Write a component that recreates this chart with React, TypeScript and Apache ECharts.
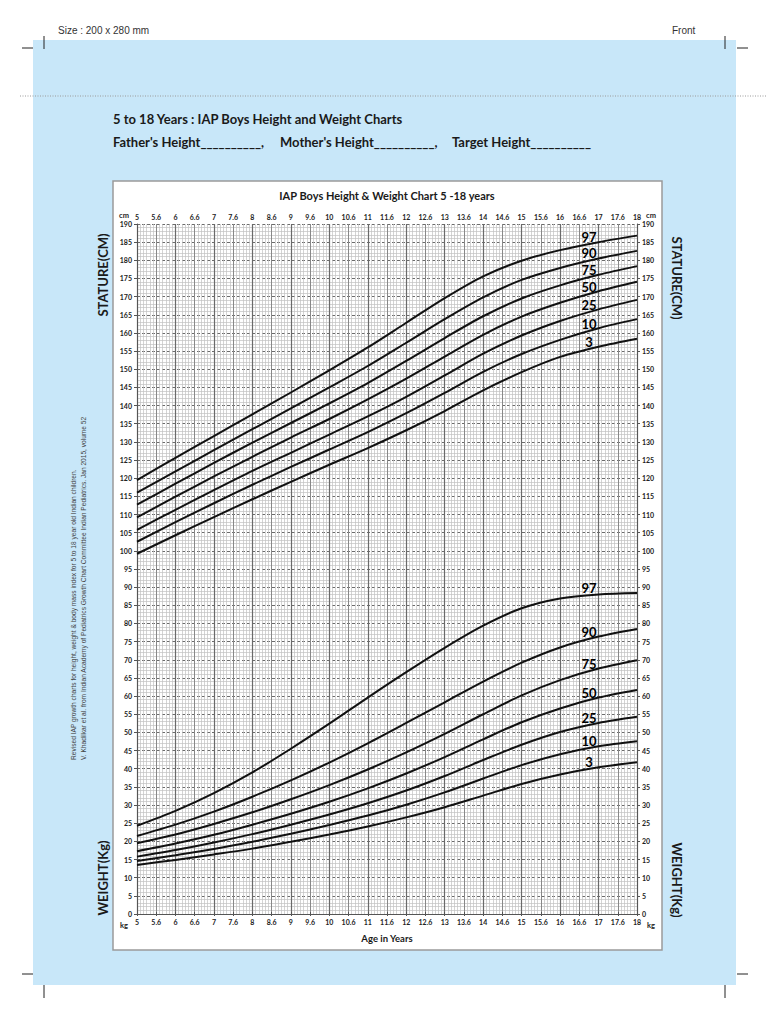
import React, { useEffect, useRef } from "react";
import * as echarts from "echarts";

// Ages (years) at which the percentile curves are sampled
const ages = [5, 6, 7, 8, 9, 10, 11, 12, 13, 14, 15, 16, 17, 18];
const percentiles = ["3", "10", "25", "50", "75", "90", "97"];

// Stature (cm)
const height3 = [99.2, 104.3, 109.3, 114.2, 119.0, 123.7, 128.3, 133.2, 138.5, 144.2, 149.2, 153.4, 156.2, 158.4];
const height10 = [102.5, 107.9, 113.1, 118.2, 123.1, 127.9, 132.7, 137.9, 143.5, 149.3, 154.2, 158.1, 161.3, 163.8];
const height25 = [105.8, 111.3, 116.7, 122.0, 127.0, 132.0, 137.0, 142.4, 148.3, 154.3, 159.3, 163.3, 166.5, 169.1];
const height50 = [109.2, 114.9, 120.5, 125.9, 131.2, 136.3, 141.7, 147.4, 153.5, 159.5, 164.5, 168.3, 171.5, 174.1];
const height75 = [112.7, 118.5, 124.2, 129.8, 135.2, 140.6, 146.2, 152.3, 158.6, 164.6, 169.5, 173.1, 176.0, 178.4];
const height90 = [116.0, 121.9, 127.7, 133.5, 139.2, 145.0, 150.9, 157.3, 163.8, 169.8, 174.6, 177.9, 180.5, 182.6];
const height97 = [119.5, 125.6, 131.6, 137.6, 143.6, 149.7, 156.0, 162.8, 169.6, 175.6, 179.9, 182.8, 185.0, 186.8];

// Weight (kg)
const weight3 = [13.5, 14.9, 16.4, 18.0, 19.9, 21.9, 24.1, 26.6, 29.4, 32.6, 35.8, 38.4, 40.4, 41.8];
const weight10 = [14.6, 16.2, 17.9, 19.9, 22.1, 24.5, 27.1, 30.1, 33.5, 37.3, 41.0, 44.0, 46.2, 47.6];
const weight25 = [15.8, 17.6, 19.7, 22.0, 24.6, 27.4, 30.5, 34.0, 38.0, 42.4, 46.6, 50.1, 52.6, 54.3];
const weight50 = [17.3, 19.4, 21.8, 24.6, 27.6, 30.9, 34.6, 38.7, 43.2, 48.1, 52.8, 56.6, 59.6, 61.7];
const weight75 = [19.5, 21.9, 24.8, 28.0, 31.6, 35.5, 39.8, 44.5, 49.6, 55.0, 60.2, 64.4, 67.6, 69.9];
const weight90 = [21.5, 24.6, 28.2, 32.3, 36.8, 41.7, 47.0, 52.6, 58.3, 64.0, 69.2, 73.4, 76.4, 78.5];
const weight97 = [24.3, 28.4, 33.3, 39.0, 45.5, 52.4, 59.6, 66.6, 73.3, 79.4, 84.2, 86.9, 88.0, 88.4];

// Tick labels along the age axis (half-year steps, "x.6" = x years 6 months)
const ageTickLabels = [
  "5", "5.6", "6", "6.6", "7", "7.6", "8", "8.6", "9", "9.6", "10", "10.6", "11", "11.6",
  "12", "12.6", "13", "13.6", "14", "14.6", "15", "15.6", "16", "16.6", "17", "17.6", "18",
];

const AGE_MIN = 5;
const AGE_MAX = 18;
const VAL_MIN = 0;
const VAL_MAX = 190;
const LABEL_AGE = 16.75;

const heightSets = [height3, height10, height25, height50, height75, height90, height97];
const weightSets = [weight3, weight10, weight25, weight50, weight75, weight90, weight97];

function valueAt(vals: number[], age: number): number {
  for (let i = 0; i < ages.length - 1; i++) {
    if (age >= ages[i] && age <= ages[i + 1]) {
      const t = (age - ages[i]) / (ages[i + 1] - ages[i]);
      return vals[i] + t * (vals[i + 1] - vals[i]);
    }
  }
  return vals[vals.length - 1];
}

const INK = "#111111";
const CAL = "Lato, 'Open Sans', sans-serif";

function curve(name: string, vals: number[]) {
  return {
    name,
    type: "line",
    xAxisIndex: 0,
    yAxisIndex: 0,
    data: ages.map((a, i) => [a, vals[i]]),
    smooth: 0.3,
    symbol: "none",
    silent: true,
    z: 5,
    lineStyle: { color: INK, width: 2 },
  };
}

const ageLabel = (v: number) => {
  const idx = Math.round((v - AGE_MIN) * 2);
  return ageTickLabels[idx] ?? "";
};

const tickFont = {
  fontSize: 7,
  fontWeight: "bold",
  fontFamily: CAL,
  color: "#222",
};

export default function App() {
  const ref = useRef<HTMLDivElement>(null);

  useEffect(() => {
    if (!ref.current) return;
    const chart = echarts.init(ref.current, undefined, { renderer: "svg" });

    const sideTitle = { fontSize: 13, fontWeight: "bold", fontFamily: CAL, fill: "#1a1a1a" };
    const heading = { fontSize: 13, fontWeight: "bold", fontFamily: CAL, fill: "#1a1a1a", verticalAlign: "middle" };
    const unitFont = { fontSize: 7.5, fontWeight: "bold", fontFamily: CAL, fill: "#222", align: "center", verticalAlign: "middle" };
    const mark = { stroke: "#222", lineWidth: 1 };
    const noteFont = { fontSize: 6.6, fontFamily: "'Liberation Sans Narrow', 'Liberation Sans', sans-serif", fill: "#444", align: "left", verticalAlign: "middle" };

    const baseGraphic: any[] = [
      // printed sheet
      { type: "rect", z: -10, shape: { x: 33, y: 40, width: 703, height: 945 }, style: { fill: "#c8e7f9" } },
      { type: "text", x: 58, y: 30, style: { text: "Size : 200 x 280 mm", fontSize: 10, fontFamily: "'Liberation Sans', Arial, sans-serif", fill: "#333", verticalAlign: "middle" } },
      { type: "text", x: 672, y: 30, style: { text: "Front", fontSize: 10, fontFamily: "'Liberation Sans', Arial, sans-serif", fill: "#333", verticalAlign: "middle" } },
      // crop marks
      { type: "line", shape: { x1: 44, y1: 36, x2: 44, y2: 49 }, style: mark },
      { type: "line", shape: { x1: 725, y1: 36, x2: 725, y2: 49 }, style: mark },
      { type: "line", shape: { x1: 22, y1: 48, x2: 33, y2: 48 }, style: mark },
      { type: "line", shape: { x1: 737, y1: 48, x2: 748, y2: 48 }, style: mark },
      { type: "line", shape: { x1: 44, y1: 985, x2: 44, y2: 998 }, style: mark },
      { type: "line", shape: { x1: 725, y1: 985, x2: 725, y2: 998 }, style: mark },
      { type: "line", shape: { x1: 22, y1: 974, x2: 33, y2: 974 }, style: mark },
      { type: "line", shape: { x1: 737, y1: 974, x2: 748, y2: 974 }, style: mark },
      // fold line
      { type: "line", shape: { x1: 20, y1: 96, x2: 766, y2: 96 }, style: { stroke: "#9a9a9a", lineWidth: 1, lineDash: [1, 1.5] } },
      // headings
      { type: "text", x: 113, y: 119, style: { ...heading, text: "5 to 18 Years : IAP Boys Height and Weight Charts" } },
      { type: "text", x: 113, y: 142, style: { ...heading, text: "Father's Height__________," } },
      { type: "text", x: 280, y: 142, style: { ...heading, text: "Mother's Height__________," } },
      { type: "text", x: 452, y: 142, style: { ...heading, text: "Target Height__________" } },
      // chart card
      { type: "rect", z: -5, shape: { x: 113, y: 181, width: 549, height: 769 }, style: { fill: "#ffffff", stroke: "#9a9a9a", lineWidth: 1.5 } },
      { type: "text", x: 387, y: 195, style: { text: "IAP Boys Height & Weight Chart 5 -18 years", fontSize: 11, fontWeight: "bold", fontFamily: CAL, fill: "#1a1a1a", align: "center", verticalAlign: "middle" } },
      { type: "text", x: 124, y: 215, style: { ...unitFont, text: "cm" } },
      { type: "text", x: 651, y: 215, style: { ...unitFont, text: "cm" } },
      { type: "text", x: 124, y: 925, style: { ...unitFont, text: "kg" } },
      { type: "text", x: 651, y: 925, style: { ...unitFont, text: "kg" } },
      { type: "text", x: 387, y: 938, style: { text: "Age in Years", fontSize: 9.5, fontWeight: "bold", fontFamily: CAL, fill: "#1a1a1a", align: "center", verticalAlign: "middle" } },
      // side titles
      { type: "text", x: 103, y: 275, rotation: Math.PI / 2, style: { ...sideTitle, text: "STATURE(CM)", align: "center", verticalAlign: "middle" } },
      { type: "text", x: 103, y: 878, rotation: Math.PI / 2, style: { ...sideTitle, text: "WEIGHT(Kg)", align: "center", verticalAlign: "middle" } },
      { type: "text", x: 677, y: 278, rotation: -Math.PI / 2, style: { ...sideTitle, text: "STATURE(CM)", align: "center", verticalAlign: "middle" } },
      { type: "text", x: 677, y: 880, rotation: -Math.PI / 2, style: { ...sideTitle, text: "WEIGHT(Kg)", align: "center", verticalAlign: "middle" } },
      // source note
      { type: "text", x: 73, y: 760, rotation: Math.PI / 2, style: { ...noteFont, text: "Revised IAP growth charts for height, weight & body mass index for 5 to 18 year old Indian children." } },
      { type: "text", x: 83, y: 760, rotation: Math.PI / 2, style: { ...noteFont, text: "V. Khadilkar et al. from Indian Academy of Pediatrics Growth Chart Committee Indian Pediatrics. Jan 2015, volume 52" } },
    ];

    chart.setOption({
      animation: false,
      backgroundColor: "#ffffff",
      grid: { left: 137, top: 224, width: 500, height: 690, containLabel: false },
      xAxis: [
        {
          type: "value",
          position: "bottom",
          min: AGE_MIN,
          max: AGE_MAX,
          interval: 0.5,
          axisLine: { show: true, lineStyle: { color: "#555", width: 1 } },
          axisTick: { show: true, length: 2, lineStyle: { color: "#555" } },
          axisLabel: { ...tickFont, margin: 4, formatter: ageLabel },
          splitLine: { show: true, lineStyle: { color: "#888888", width: 1 } },
          minorTick: { show: false, splitNumber: 6 },
          minorSplitLine: { show: true, lineStyle: { color: "#c2c2c2", width: 0.7 } },
        },
        {
          type: "value",
          position: "top",
          min: AGE_MIN,
          max: AGE_MAX,
          interval: 0.5,
          axisLine: { show: true, lineStyle: { color: "#555", width: 1 } },
          axisTick: { show: true, length: 2, lineStyle: { color: "#555" } },
          axisLabel: { ...tickFont, margin: 4, formatter: ageLabel },
          splitLine: { show: false },
        },
        {
          type: "value",
          position: "bottom",
          min: AGE_MIN,
          max: AGE_MAX,
          interval: 1,
          axisLine: { show: false },
          axisTick: { show: false },
          axisLabel: { show: false },
          splitLine: { show: true, lineStyle: { color: "#6a6a6a", width: 1.2 } },
        },
      ],
      yAxis: [
        {
          type: "value",
          position: "left",
          min: VAL_MIN,
          max: VAL_MAX,
          interval: 5,
          axisLine: { show: true, lineStyle: { color: "#555", width: 1 } },
          axisTick: { show: true, length: 3, lineStyle: { color: "#555" } },
          axisLabel: { ...tickFont, margin: 5 },
          splitLine: { show: true, lineStyle: { color: "#5a5a5a", width: 0.9, type: [3, 2] } },
          minorTick: { show: false, splitNumber: 5 },
          minorSplitLine: { show: true, lineStyle: { color: "#c2c2c2", width: 0.7 } },
        },
        {
          type: "value",
          position: "right",
          min: VAL_MIN,
          max: VAL_MAX,
          interval: 5,
          axisLine: { show: true, lineStyle: { color: "#555", width: 1 } },
          axisTick: { show: true, length: 3, lineStyle: { color: "#555" } },
          axisLabel: { ...tickFont, margin: 5 },
          splitLine: { show: false },
        },
      ],
      graphic: baseGraphic,
      series: [
        ...heightSets.map((vals, i) => curve("Height P" + percentiles[i], vals)),
        ...weightSets.map((vals, i) => curve("Weight P" + percentiles[i], vals)),
      ],
    });

    // Percentile tags just above each curve, placed through the chart's own scales
    const tags: any[] = [];
    [heightSets, weightSets].forEach((sets) => {
      sets.forEach((vals, i) => {
        const pt = chart.convertToPixel({ xAxisIndex: 0, yAxisIndex: 0 }, [LABEL_AGE, valueAt(vals, LABEL_AGE)]) as number[];
        tags.push({
          type: "text",
          z: 20,
          x: pt[0],
          y: pt[1] - 1,
          silent: true,
          style: {
            text: percentiles[i],
            fontSize: 13,
            fontWeight: "bold",
            fontFamily: CAL,
            fill: "#000000",
            align: "center",
            verticalAlign: "bottom",
          },
        });
      });
    });
    chart.setOption({ graphic: [...baseGraphic, ...tags] });

    return () => chart.dispose();
  }, []);

  return (
    <div
      ref={ref}
      style={{ position: "absolute", left: 0, top: 0, width: 768, height: 1024 }}
    />
  );
}
